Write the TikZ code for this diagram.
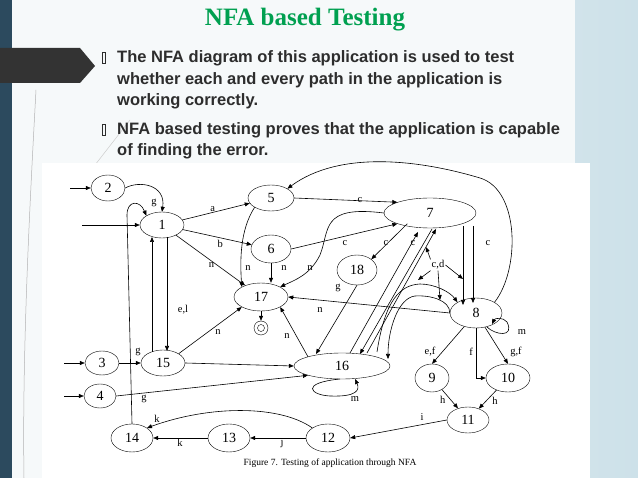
\documentclass[tikz,border=0pt]{standalone}
\usepackage{fontspec}
\setmainfont{Liberation Serif}
\setsansfont{Liberation Sans}
\usetikzlibrary{shapes.geometric,arrows.meta}
\definecolor{titlegreen}{RGB}{0,160,80}
\definecolor{bandblue}{RGB}{44,74,94}
\definecolor{bggray}{RGB}{236,242,245}
\definecolor{rightblue}{RGB}{205,225,233}
\definecolor{txtgray}{RGB}{45,45,45}
\begin{document}
\begin{tikzpicture}[x=1pt,y=-1pt,
  st/.style={draw,ellipse,inner sep=0pt,font=\fontsize{14}{14}\selectfont},
  ed/.style={draw,-{Triangle[length=5pt,width=4pt]},line width=0.6pt},
  lb/.style={font=\fontsize{10.5}{10.5}\selectfont,inner sep=1pt},
  bul/.style={font=\sffamily\bfseries\fontsize{16.5}{16.5}\selectfont,text=txtgray,anchor=west,inner sep=0pt}]
\useasboundingbox (0,0) rectangle (638,478);
\fill[left color=bggray!50!white,right color=rightblue] (0,0) rectangle (638,478);
\fill[white!50!bggray] (0,0) rectangle (575,478);
\fill[bandblue] (0,0) rectangle (12,478);
\fill[black!80] (0,48) -- (80,48) -- (95,66) -- (80,83) -- (0,83) -- cycle;
\draw[gray!60,line width=0.5pt] (36,90) .. controls (30,200) and (22,350) .. (24,478);
\draw[gray!40,line width=0.5pt] (130,120) -- (95,165);
\fill[white] (42,163) rectangle (590,478);
% title and bullets
\node[font=\bfseries\fontsize{25}{25}\selectfont,text=titlegreen] (title) at (305,20) {NFA based Testing};
\node[draw=txtgray,line width=0.5pt,minimum width=3pt,minimum height=11pt,inner sep=0pt] (b1) at (104,58) {};
\node[draw=txtgray,line width=0.5pt,minimum width=3pt,minimum height=11pt,inner sep=0pt] (b2) at (104,130) {};
\node[bul] (t1) at (117,58) {The NFA diagram of this application is used to test};
\node[bul] (t2) at (117,80) {whether each and every path in the application is};
\node[bul] (t3) at (117,101) {working correctly.};
\node[bul] (t4) at (117,130) {NFA based testing proves that the application is capable};
\node[bul] (t5) at (117,151) {of finding the error.};
% states
\node[st,minimum width=34pt,minimum height=26pt] (n2) at (108,188) {2};
\node[st,minimum width=44pt,minimum height=26pt] (n1) at (162,225) {1};
\node[st,minimum width=46pt,minimum height=26pt] (n5) at (271,198) {5};
\node[st,minimum width=40pt,minimum height=28pt] (n6) at (271,249) {6};
\node[st,minimum width=92pt,minimum height=30pt] (n7) at (430,213) {7};
\node[st,minimum width=40pt,minimum height=30pt] (n18) at (357,270) {18};
\node[st,minimum width=54pt,minimum height=28pt] (n17) at (261,297) {17};
\node[draw,circle,minimum size=14pt,inner sep=0pt] (fin) at (261,328) {};
\node[draw,circle,minimum size=7pt,inner sep=0pt] (finin) at (261,328) {};
\node[st,minimum width=52pt,minimum height=30pt] (n8) at (476,313) {8};
\node[st,minimum width=34pt,minimum height=24pt] (n3) at (102,363) {3};
\node[st,minimum width=44pt,minimum height=26pt] (n15) at (163,363) {15};
\node[st,minimum width=32pt,minimum height=24pt] (n4) at (100,396) {4};
\node[st,minimum width=96pt,minimum height=26pt] (n16) at (342,366) {16};
\node[st,minimum width=34pt,minimum height=28pt] (n9) at (432,378) {9};
\node[st,minimum width=44pt,minimum height=28pt] (n10) at (508,378) {10};
\node[st,minimum width=42pt,minimum height=26pt] (n11) at (468,420) {11};
\node[st,minimum width=44pt,minimum height=28pt] (n12) at (328,438) {12};
\node[st,minimum width=42pt,minimum height=28pt] (n13) at (229,438) {13};
\node[st,minimum width=42pt,minimum height=28pt] (n14) at (132,438) {14};
\node[font=\fontsize{9.5}{9.5}\selectfont] (cap) at (330,463) {Figure 7. Testing of application through NFA};
% initial arrows
\coordinate (i2) at (70,188); \coordinate (i1) at (82,225);
\coordinate (i3) at (64,363); \coordinate (i4) at (64,396);
\draw[ed] (i2) -- (n2); \draw[ed] (i1) -- (n1);
\draw[ed] (i3) -- (n3); \draw[ed] (i4) -- (n4);
% edges
\draw[ed] (n2.east) .. controls (140,180) and (166,185) .. (n1.north);
\node[lb] (lg1) at (154,203) {g};
\draw[ed] (n14.north) -- (127,215) .. controls (127,200) and (140,200) .. (n1.north west);
\draw[ed] (152,352) -- (152,237);
\draw[ed] (167,237) -- (167,351);
\node[lb] (lel) at (183,310) {e,l};
\draw[ed] (n1) -- (n5) node[lb,pos=0.45,above] (la) {a};
\draw[ed] (n1) -- (n6) node[lb,pos=0.6,below left] (lb1) {b};
\draw[ed] (n1) -- (n17) node[lb,pos=0.6,left=2pt] (ln1) {n};
\draw[ed] (n5.south west) .. controls (240,230) and (240,260) .. (n17.north west);
\node[lb] (ln2) at (248,268) {n};
\draw[ed] (n6.south) -- (n6.south |- n17.north);
\node[lb] (ln3) at (284,268) {n};
\draw[ed] (n7.west) .. controls (320,205) and (330,230) .. (320,255) .. controls (310,275) and (295,280) .. (n17.north east);
\node[lb] (ln4) at (310,268) {n};
\draw[ed] (n5.east) -- (n7.north west);
\node[lb] (lc1) at (360,200) {c};
\draw[ed] (n6.east) -- (n7.south west);
\node[lb] (lc2) at (345,243) {c};
\draw[ed] (n8.north east) .. controls (520,270) and (520,190) .. (480,178) .. controls (420,160) and (340,150) .. (n5.north east);
\node[lb] (lc3) at (488,243) {c};
\draw[ed] (n7.south west) ++(10,0) -- (n18.north east);
\node[lb] (lc4) at (386,243) {c};
\node[lb] (lc5) at (413,243) {c};
\draw[ed] (463,226) -- (463,305);
\draw[ed] (473,226) -- (473,303);
\node[lb] (lcd) at (438,265) {c,d};
\draw[ed] (lcd.north west) -- (426,247);
\draw[ed] (lcd.south west) -- (418,280);
\draw[ed] (lcd.east) -- (463,279);
\draw[ed] (lcd.south) -- (440,300);
% 16 <-> 7 and 8 curves
\draw[ed] (350,353) -- (418,232);
\draw[ed] (432,229) -- (360,354);
\draw[ed] (367,353) -- (436,229);
\draw[ed] (377,352) .. controls (385,300) and (400,285) .. (420,284) .. controls (435,284) and (450,292) .. (n8.north west);
\draw[ed] (n8.west) .. controls (450,300) and (430,295) .. (415,296) .. controls (398,298) and (388,330) .. (388,359);
\draw[ed] (n8.west) -- (n17.east);
\node[lb] (ln5) at (320,310) {n};
\draw[ed] (n18.south) -- (316,354);
\node[lb] (lg2) at (338,288) {g};
\draw[ed] (n16.north west) -- (n17.south east);
\node[lb] (ln6) at (287,336) {n};
\draw[ed] (n15.north east) -- (n17.south west);
\node[lb] (ln7) at (218,332) {n};
\draw[ed] (n17.south) -- (fin.north);
\draw[ed] (n15.east) -- (n16.west);
\draw[ed] (n4.east) -- (n16.south west);
\node[lb] (lg3) at (144,399) {g};
\draw[ed] (n3.east) -- (n15.west);
\node[lb] (lg4) at (138,352) {g};
\draw[ed] (340,379) .. controls (300,383) and (310,395) .. (330,396) .. controls (357,397) and (360,390) .. (355,379);
\node[lb] (lm1) at (355,399) {m};
\draw[ed] (487,327) .. controls (495,335) and (515,338) .. (507,322) .. controls (503,317) and (495,318) .. (492,324);
\node[lb] (lm2) at (522,332) {m};
\draw[ed] (n8) -- (n9.north);
\node[lb] (lef) at (430,352) {e,f};
\draw[ed] (n8) -- (n10.north);
\node[lb] (lgf) at (516,352) {g,f};
\draw[ed] (476,328) -- (476,378) -- (n10.west);
\node[lb] (lf) at (471,352) {f};
\draw[ed] (n9) -- (n11) node[lb,pos=0.3,below left] (lh1) {h};
\draw[ed] (n10) -- (n11) node[lb,pos=0.3,below right] (lh2) {h};
\draw[ed] (n11.west) -- (n12.east);
\node[lb] (li) at (422,417) {i};
\draw[ed] (n12) -- (n13);
\node[lb] (lj) at (282,443) {j};
\draw[ed] (n13) -- (n14);
\node[lb] (lk1) at (180,443) {k};
\draw[ed] (n12.north west) .. controls (280,405) and (210,405) .. (n14.north east);
\node[lb] (lk2) at (157,419) {k};
\end{tikzpicture}
\end{document}
